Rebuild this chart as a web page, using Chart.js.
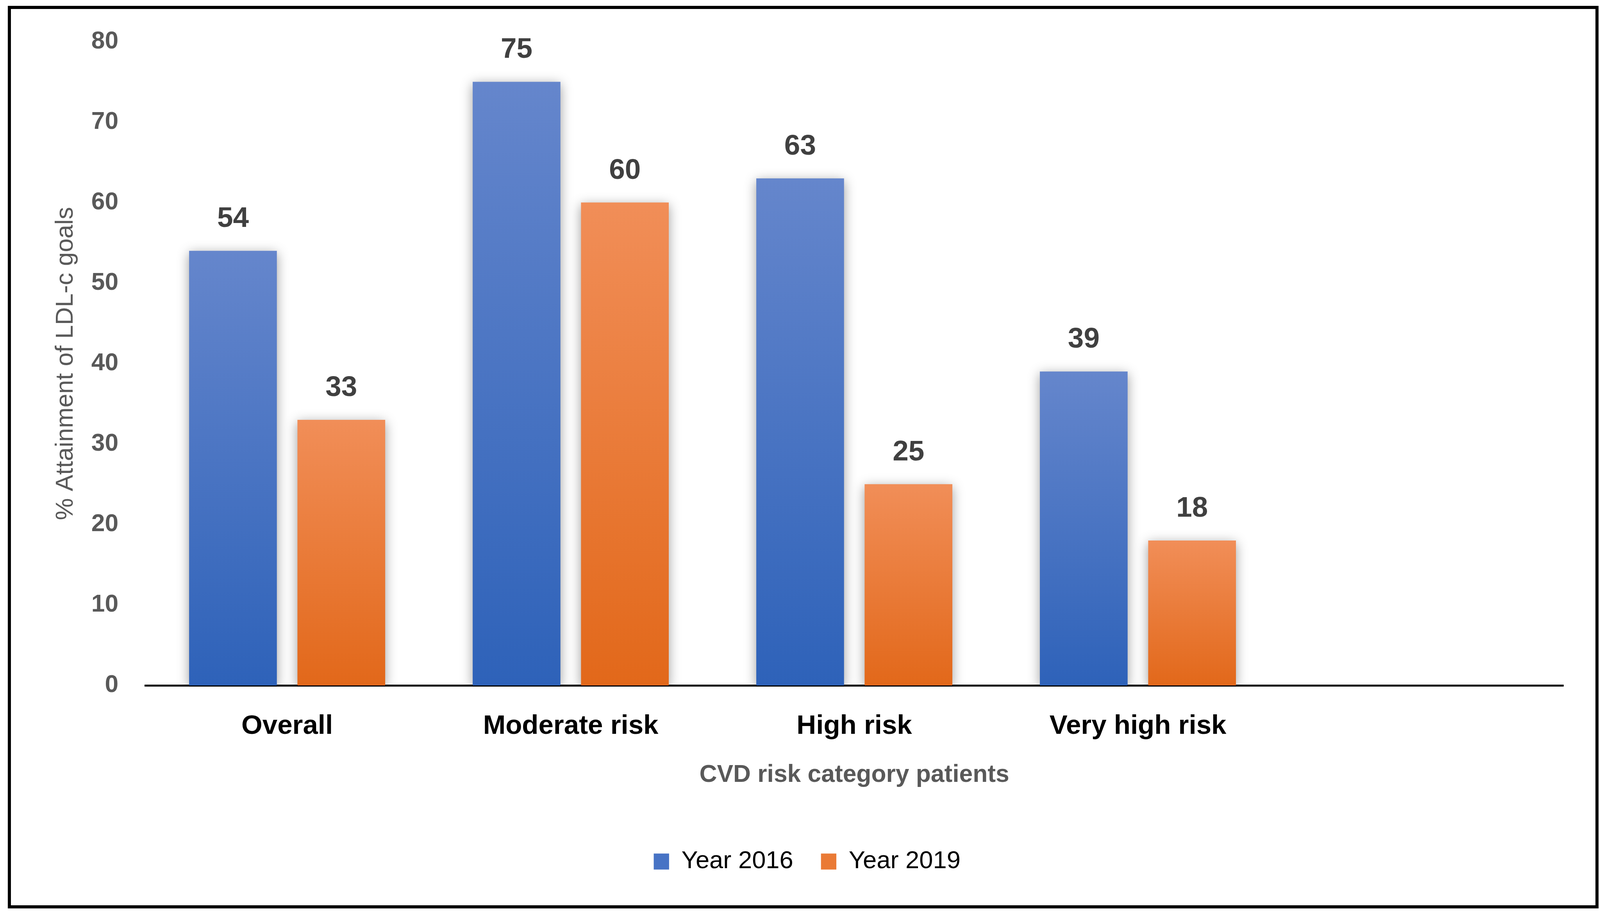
<!DOCTYPE html>
<html>
<head>
<meta charset="utf-8">
<script src="https://cdn.jsdelivr.net/npm/chart.js@4/dist/chart.umd.min.js"></script>
<style>
  html, body { margin: 0; padding: 0; background: #fff; overflow: hidden; }
  canvas { display: block; }
</style>
</head>
<body>
<canvas id="c"></canvas>
<script>
const categories = ["Overall", "Moderate risk", "High risk", "Very high risk", ""];
const year2016 = [54, 75, 63, 39, null];
const year2019 = [33, 60, 25, 18, null];
const seriesNames = ["Year 2016", "Year 2019"];
const yTicks = [0, 10, 20, 30, 40, 50, 60, 70, 80];

const FONT = "'Liberation Sans', Arial, sans-serif";
const W = window.innerWidth || 4271;
const H = window.innerHeight || 2348;
const sx = W / 4271;
const sy = H / 2348;
const fs = sx;

const canvas = document.getElementById('c');
canvas.width = W; canvas.height = H;
canvas.style.width = W + 'px'; canvas.style.height = H + 'px';

const BLUE = ['#6586CC', '#2E62B9'];
const ORANGE = ['#F18E58', '#E2681A'];

function barGradient(cols) {
  return function (context) {
    const chart = context.chart;
    const y = chart.scales && chart.scales.y;
    if (!y || context.type !== 'data' || context.raw == null) return cols[1];
    const yTop = y.getPixelForValue(context.raw);
    const yBase = y.getPixelForValue(0);
    if (!isFinite(yTop) || !isFinite(yBase) || yTop === yBase) return cols[1];
    const g = chart.ctx.createLinearGradient(0, yTop, 0, yBase);
    g.addColorStop(0, cols[0]);
    g.addColorStop(1, cols[1]);
    return g;
  };
}

const shadowPlugin = {
  id: 'barShadow',
  beforeDatasetsDraw(chart) {
    const ctx = chart.ctx;
    ctx.save();
    ctx.shadowColor = 'rgba(0,0,0,0.38)';
    ctx.shadowBlur = 28;
    ctx.shadowOffsetX = 0;
    ctx.shadowOffsetY = 6;
  },
  afterDatasetsDraw(chart) { chart.ctx.restore(); }
};

const valueLabels = {
  id: 'valueLabels',
  afterDatasetsDraw(chart) {
    const ctx = chart.ctx;
    ctx.save();
    ctx.font = "bold " + (76 * fs) + "px " + FONT;
    ctx.fillStyle = '#404040';
    ctx.textAlign = 'center';
    ctx.textBaseline = 'alphabetic';
    chart.data.datasets.forEach((ds, i) => {
      chart.getDatasetMeta(i).data.forEach((bar, j) => {
        const v = ds.data[j];
        if (v == null) return;
        ctx.fillText(String(v), bar.x, bar.y - 61 * sy);
      });
    });
    ctx.restore();
  }
};

const frame = {
  id: 'frame',
  afterDraw(chart) {
    const ctx = chart.ctx;
    ctx.save();
    ctx.strokeStyle = '#000';
    ctx.lineWidth = 8;
    ctx.strokeRect(25 * sx, 19 * sy, (4263 - 25) * sx, (2322 - 19) * sy);
    ctx.restore();
  }
};

const legendPad = 74 * sx;
const legendFont = 66 * fs;
const legendHeight = legendFont + legendPad + 10;
const legendTop = 2206 * sy - legendPad - legendFont / 2;
const padBottom = H - (legendTop + legendHeight);
const caBottom = 1755 * sy;
const xHeight = legendTop - caBottom;
const xTickFont = 72 * fs;
const xTitleFont = 65 * fs;
const xTitleMiddle = 1985 * sy;
const xTitlePadBottom = legendTop - 0.6 * xTitleFont - xTitleMiddle;
const padLeft = 136 * sx;
const yWidth = (388 - 136) * sx;

new Chart(canvas, {
  type: 'bar',
  data: {
    labels: categories,
    datasets: [
      { label: seriesNames[0], data: year2016, backgroundColor: barGradient(BLUE), borderWidth: 0 },
      { label: seriesNames[1], data: year2019, backgroundColor: barGradient(ORANGE), borderWidth: 0 }
    ]
  },
  options: {
    responsive: false,
    animation: false,
    devicePixelRatio: 1,
    categoryPercentage: 0.764,
    barPercentage: 0.81,
    layout: { padding: { left: padLeft, right: W - 4173 * sx, top: 100 * sy, bottom: padBottom } },
    plugins: {
      tooltip: { enabled: false },
      legend: {
        position: 'bottom',
        labels: {
          boxWidth: 41 * sx,
          boxHeight: 41 * sy,
          padding: legendPad,
          color: '#595959',
          font: { family: FONT, size: legendFont },
          generateLabels(chart) {
            const cols = ['#4773C5', '#EA7A35'];
            return chart.data.datasets.map((ds, i) => ({
              text: ds.label,
              fillStyle: cols[i],
              strokeStyle: 'rgba(0,0,0,0)',
              lineWidth: 0,
              hidden: false,
              datasetIndex: i
            }));
          }
        }
      }
    },
    scales: {
      x: {
        afterFit(scale) { scale.height = xHeight; },
        grid: { display: false, drawTicks: false },
        border: { display: true, color: '#000', width: 5 },
        ticks: {
          color: '#000',
          padding: 64 * sy,
          font: { family: FONT, size: xTickFont, weight: 'bold' },
          maxRotation: 0,
          autoSkip: false
        },
        title: {
          display: true,
          text: 'CVD risk category patients',
          color: '#595959',
          font: { family: FONT, size: xTitleFont, weight: 'bold' },
          padding: { top: 0, bottom: xTitlePadBottom }
        }
      },
      y: {
        min: 0,
        max: 80,
        afterBuildTicks(scale) { scale.ticks = yTicks.map(v => ({ value: v })); },
        afterFit(scale) { scale.width = yWidth; },
        grid: { display: false, drawTicks: false },
        border: { display: false },
        ticks: {
          color: '#595959',
          padding: 72 * sx,
          font: { family: FONT, size: 65 * fs, weight: 'bold' }
        },
        title: {
          display: true,
          text: '% Attainment of LDL-c goals',
          color: '#595959',
          font: { family: FONT, size: 66 * fs },
          padding: { top: 0, bottom: 0 }
        }
      }
    }
  },
  plugins: [shadowPlugin, valueLabels, frame]
});
</script>
</body>
</html>
